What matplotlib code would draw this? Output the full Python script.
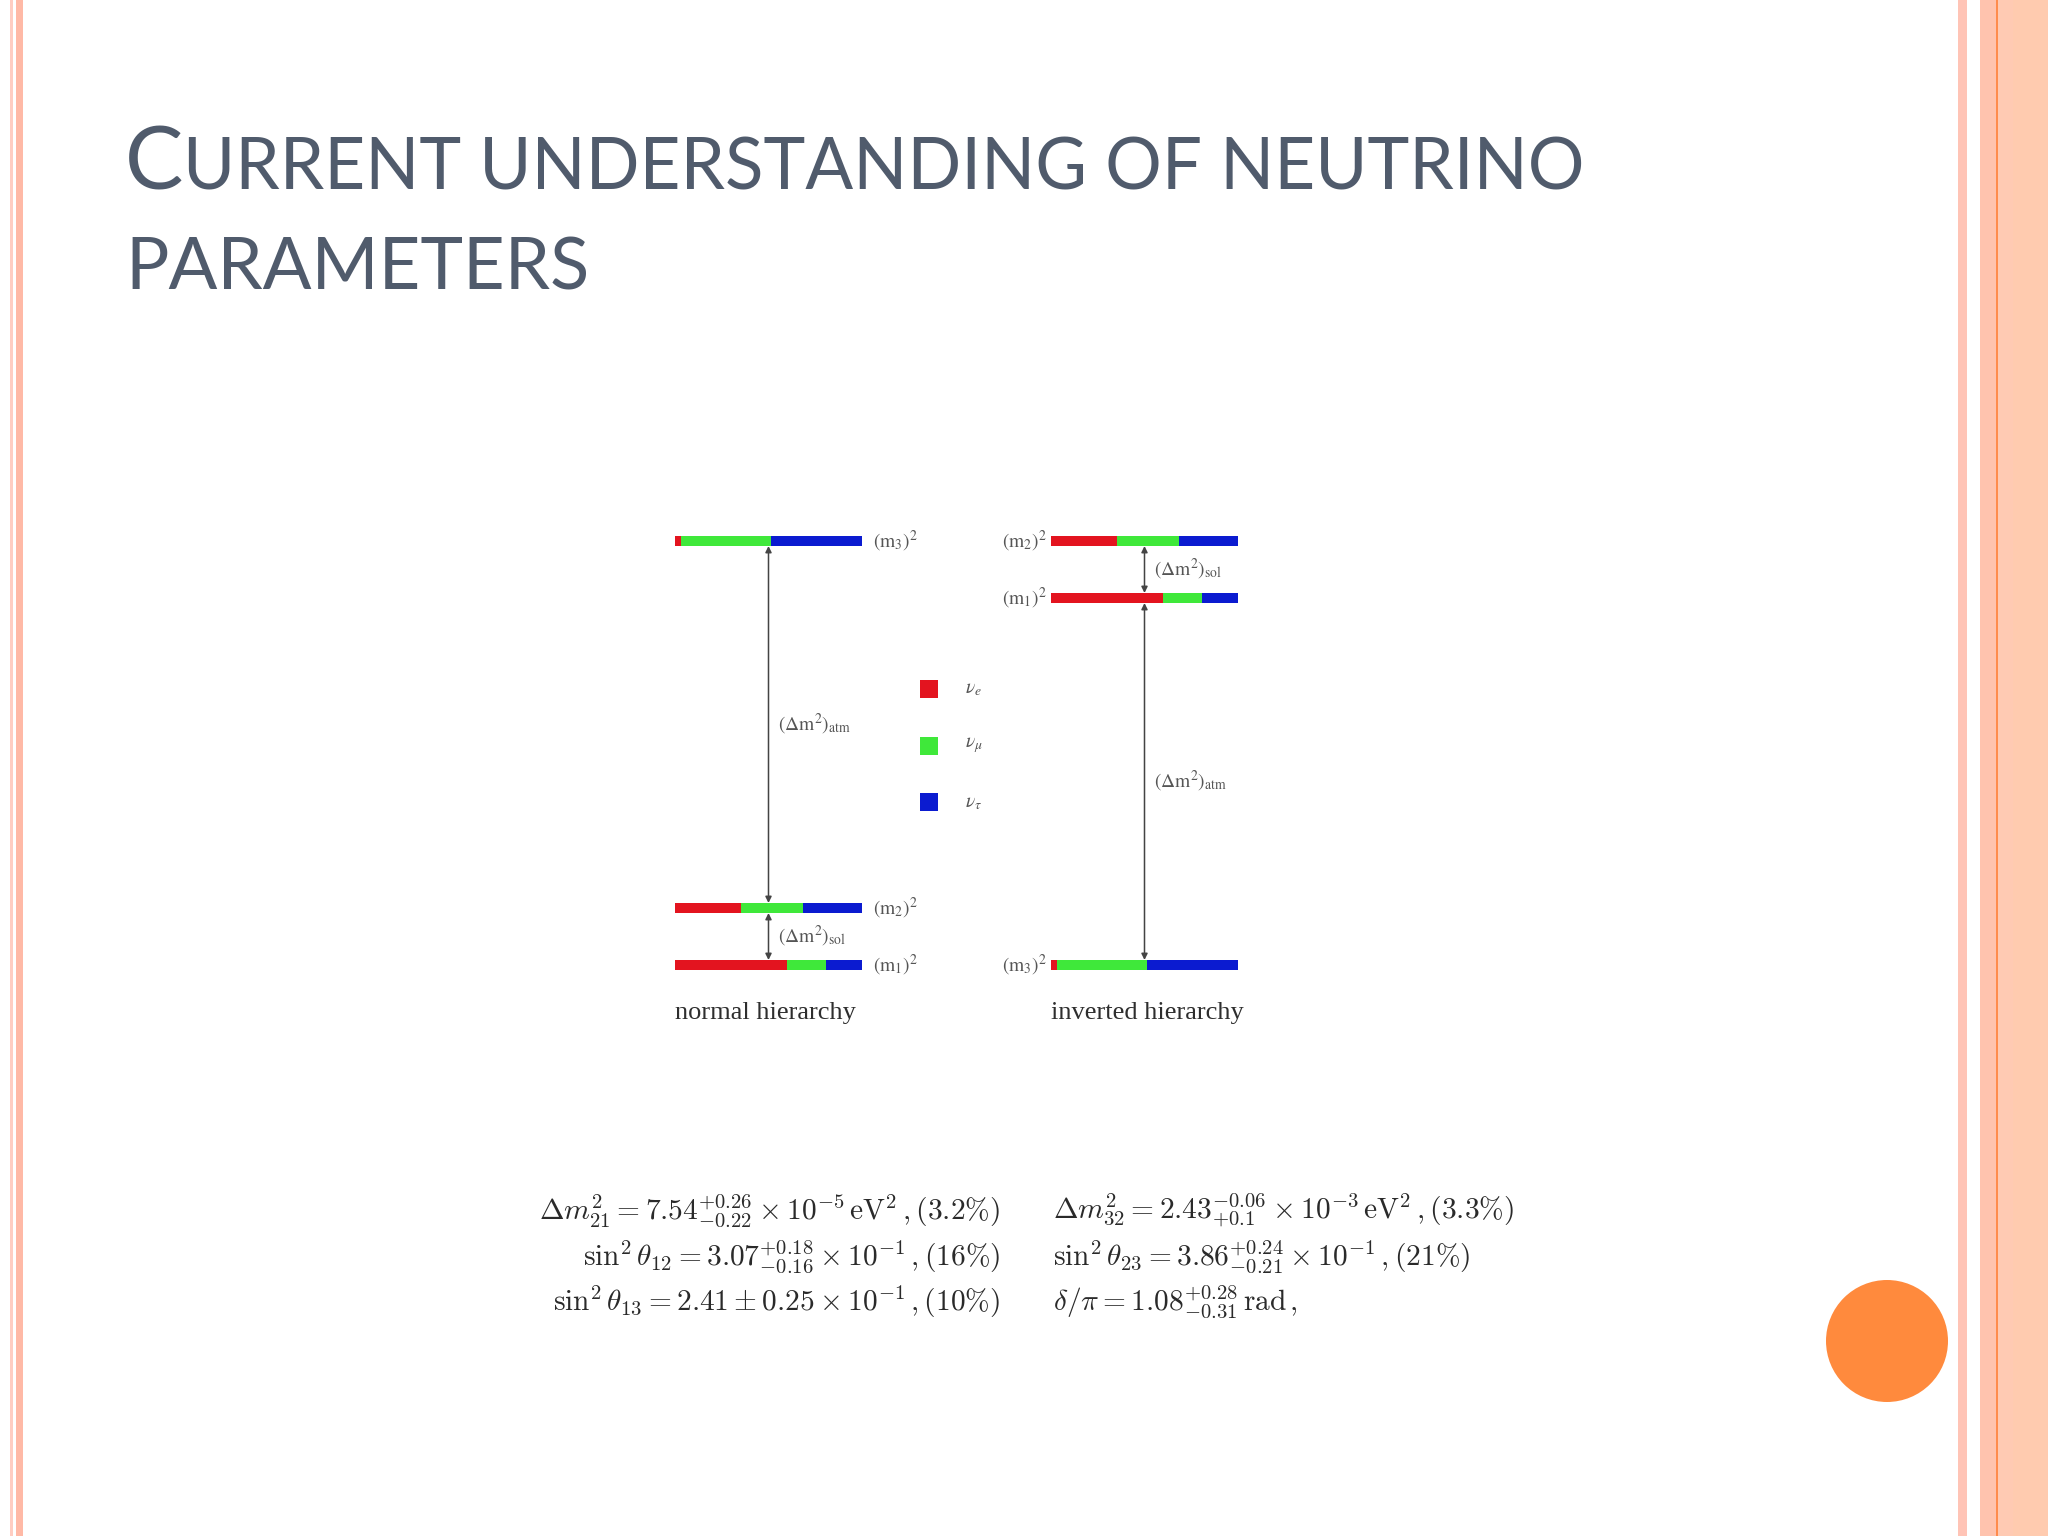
import matplotlib.pyplot as plt
from matplotlib.patches import Rectangle, Circle

# flavour content of each mass state: (nu_e, nu_mu, nu_tau)
flavour_names = [r"$\nu_e$", r"$\nu_\mu$", r"$\nu_\tau$"]
flavour_colors = ["#e3141f", "#3fe83a", "#0b1bd0"]
mix_m1 = [0.60, 0.21, 0.19]
mix_m2 = [0.355, 0.33, 0.315]
mix_m3 = [0.03, 0.485, 0.485]

# schematic mass-squared levels (arbitrary units)
nh_levels = {"m1": 0.0, "m2": 0.57, "m3": 4.24}
ih_levels = {"m3": 0.0, "m1": 3.67, "m2": 4.24}
mass_labels = {"m1": r"$(\mathrm{m}_1)^2$", "m2": r"$(\mathrm{m}_2)^2$", "m3": r"$(\mathrm{m}_3)^2$"}

title_first = "C"
title_rest = "URRENT UNDERSTANDING OF NEUTRINO"
title_line2 = "PARAMETERS"

left_eqs = [
    r"$\Delta m^2_{21} = 7.54^{+0.26}_{-0.22} \times 10^{-5}\,\mathrm{eV}^2\,,(3.2\%)$",
    r"$\sin^2\theta_{12} = 3.07^{+0.18}_{-0.16} \times 10^{-1}\,,(16\%)$",
    r"$\sin^2\theta_{13} = 2.41 \pm 0.25 \times 10^{-1}\,,(10\%)$",
]
right_eqs = [
    r"$\Delta m^2_{32} = 2.43^{-0.06}_{+0.1} \times 10^{-3}\,\mathrm{eV}^2\,,(3.3\%)$",
    r"$\sin^2\theta_{23} = 3.86^{+0.24}_{-0.21} \times 10^{-1}\,,(21\%)$",
    r"$\delta/\pi = 1.08^{+0.28}_{-0.31}\,\mathrm{rad}\,,$",
]

mixing = {"m1": mix_m1, "m2": mix_m2, "m3": mix_m3}

W, H = 2048, 1536
fig = plt.figure(figsize=(W / 100, H / 100), dpi=100)
fig.patch.set_facecolor("white")

bg = fig.add_axes([0, 0, 1, 1])
bg.set_xlim(0, W)
bg.set_ylim(H, 0)
bg.axis("off")

# slide border stripes
for x0, w, c in [(10, 3, "#ffcdc2"), (16, 7, "#ffb9a6"),
                 (1958, 9, "#ffc4b6"), (1980, 16, "#ffc3ae"),
                 (1996, 2, "#ff8c4d"), (1998, 15, "#ffcab3"),
                 (2013, 35, "#ffcbaf")]:
    bg.add_patch(Rectangle((x0, 0), w, H, color=c, lw=0))

bg.add_patch(Circle((1887, 1341), 61, color="#ff8a3d", lw=0))

# title in small caps
title_color = "#505b6c"
c_txt = bg.text(125, 189, title_first, fontsize=63, family="Lato",
                color=title_color, va="baseline", ha="left")
bg.annotate(title_rest, xy=(1, 189), xycoords=(c_txt, "data"),
            fontsize=51, family="Lato", color=title_color,
            va="baseline", ha="left")
bg.text(125, 289, title_line2, fontsize=52, family="Lato",
        color=title_color, va="baseline", ha="left")

# equations
for i, (le, re) in enumerate(zip(left_eqs, right_eqs)):
    y = 1211 + i * 45.5
    bg.text(1000, y, le, fontsize=21.2, math_fontfamily="cm",
            color="#2a2a2a", ha="right", va="center")
    bg.text(1053, y, re, fontsize=21.2, math_fontfamily="cm",
            color="#2a2a2a", ha="left", va="center")


def panel(left_px, levels, label_side, title, sol_pair, atm_pair):
    # axes where x = cumulative flavour fraction, y = mass^2 (1 unit = 100 px)
    y_lo, y_hi = -0.2, 4.44
    bottom_px = 965 + 100 * (-y_lo)
    top_px = 965 - 100 * y_hi
    ax = fig.add_axes([left_px / W, (H - bottom_px) / H, 187 / W, (bottom_px - top_px) / H])
    ax.set_xlim(0, 1)
    ax.set_ylim(y_lo, y_hi)
    ax.axis("off")

    for state, y in levels.items():
        left = 0.0
        for frac, col in zip(mixing[state], flavour_colors):
            ax.barh(y, frac, left=left, height=0.1, color=col, lw=0)
            left += frac
        if label_side == "right":
            ax.text(1.06, y, mass_labels[state], fontsize=14, color="#555555",
                    math_fontfamily="stix", ha="left", va="center", clip_on=False)
        else:
            ax.text(-0.02, y, mass_labels[state], fontsize=14, color="#555555",
                    math_fontfamily="stix", ha="right", va="center", clip_on=False)

    arrow = dict(arrowstyle="<|-|>", color="#444444", lw=1.1,
                 mutation_scale=9, shrinkA=0, shrinkB=0)
    for (a, b), name in [(sol_pair, "sol"), (atm_pair, "atm")]:
        ya, yb = levels[a], levels[b]
        lo, hi = min(ya, yb), max(ya, yb)
        ax.annotate("", xy=(0.5, hi - 0.05), xytext=(0.5, lo + 0.05),
                    arrowprops=arrow)
        ax.text(0.55, (lo + hi) / 2, r"$(\Delta\mathrm{m}^2)_{\mathrm{%s}}$" % name,
                fontsize=14, color="#555555", math_fontfamily="stix",
                ha="left", va="center", clip_on=False)

    ax.text(0.0, -0.48, title, fontsize=19, family="Liberation Serif",
            color="#2e2e2e", ha="left", va="center", clip_on=False)
    return ax


nh_ax = panel(675, nh_levels, "right", "normal hierarchy", ("m1", "m2"), ("m2", "m3"))
ih_ax = panel(1051, ih_levels, "left", "inverted hierarchy", ("m1", "m2"), ("m3", "m1"))

# flavour legend (in normal-hierarchy axes coordinates)
for i, (name, col) in enumerate(zip(flavour_names, flavour_colors)):
    y = 2.76 - i * 0.565
    nh_ax.scatter([1.358], [y], marker="s", s=170, color=col, lw=0, clip_on=False)
    nh_ax.text(1.55, y, name, fontsize=14, color="#555555",
               math_fontfamily="stix", ha="left", va="center", clip_on=False)

fig.savefig("out.png", dpi=100, facecolor="white")
